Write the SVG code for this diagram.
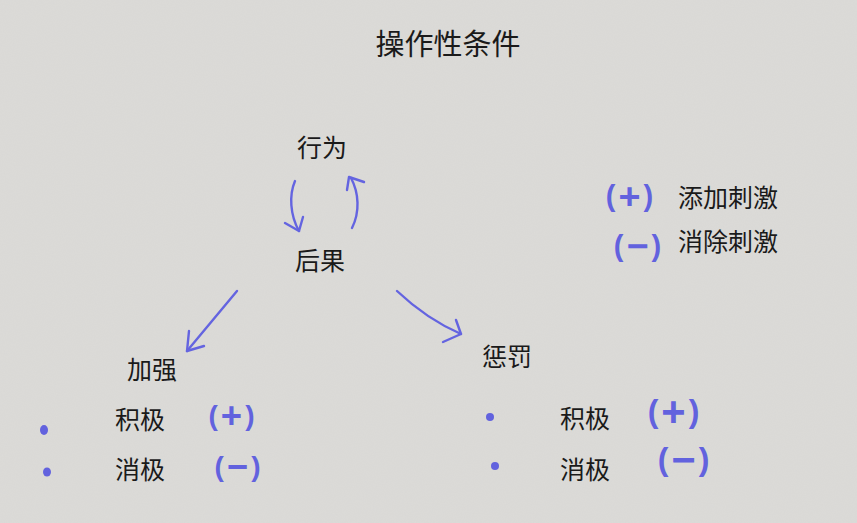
<svg xmlns="http://www.w3.org/2000/svg" width="857" height="523" viewBox="0 0 857 523">
  <defs>
    <filter id="paper" x="0" y="0" width="100%" height="100%">
      <feTurbulence type="fractalNoise" baseFrequency="0.9" numOctaves="2" seed="3" result="n"/>
      <feColorMatrix in="n" type="matrix" values="0 0 0 0 0.5  0 0 0 0 0.5  0 0 0 0 0.5  0 0 0 0.10 0"/>
    </filter>
    <style>
      .t { font-family: "Noto Sans CJK SC", "Noto Sans", sans-serif; fill: #1a1a1a; dominant-baseline: central; text-anchor: middle; }
      .tl { font-family: "Noto Sans CJK SC", "Noto Sans", sans-serif; fill: #1a1a1a; dominant-baseline: central; text-anchor: start; }
      .ink { fill: none; stroke: #6464e0; stroke-width: 2.4; stroke-linecap: round; stroke-linejoin: round; }
      .sym { font-family: "Liberation Sans", "DejaVu Sans", sans-serif; font-weight: bold; fill: #6262de; dominant-baseline: central; text-anchor: middle; letter-spacing: 3px; }
      .big { font-size: 1.3em; }
      .dot { fill: #6262de; }
    </style>
  </defs>
  <rect x="0" y="0" width="857" height="523" fill="#dcdbd8"/>
  <rect x="0" y="0" width="857" height="523" filter="url(#paper)"/>

  <g id="title"><text class="t" x="448" y="42" font-size="29">操作性条件</text></g>

  <g id="node-behavior"><text class="t" x="322" y="146" font-size="25">行为</text></g>
  <g id="node-consequence"><text class="t" x="320" y="259" font-size="25">后果</text></g>
  <g id="node-reinforce"><text class="t" x="152" y="368" font-size="25">加强</text></g>
  <g id="node-punish"><text class="t" x="507" y="355" font-size="25">惩罚</text></g>

  <g id="reinforce-list">
    <ellipse class="dot" cx="44" cy="430" rx="4" ry="5"/>
    <ellipse class="dot" cx="47" cy="472" rx="4" ry="4.5"/>
    <text class="t" x="140" y="418" font-size="25">积极</text>
    <text class="t" x="140" y="468" font-size="25">消极</text>
    <text class="sym" x="233" y="415" font-size="28">(<tspan class="big">+</tspan>)</text>
    <text class="sym" x="239" y="466" font-size="28">(<tspan class="big">−</tspan>)</text>
  </g>

  <g id="punish-list">
    <circle class="dot" cx="490" cy="417" r="4"/>
    <circle class="dot" cx="495" cy="466" r="4"/>
    <text class="t" x="585" y="417" font-size="25">积极</text>
    <text class="t" x="585" y="468" font-size="25">消极</text>
    <text class="sym" x="675" y="411" font-size="32">(<tspan class="big">+</tspan>)</text>
    <text class="sym" x="685" y="459" font-size="32">(<tspan class="big">−</tspan>)</text>
  </g>

  <g id="legend">
    <text class="sym" x="631" y="196" font-size="29">(<tspan class="big">+</tspan>)</text>
    <text class="tl" x="678" y="196" font-size="25">添加刺激</text>
    <text class="sym" x="639" y="246" font-size="29">(<tspan class="big">−</tspan>)</text>
    <text class="tl" x="678" y="240" font-size="25">消除刺激</text>
  </g>

  <g id="connectors">
    <path class="ink" d="M295,181 C289,195 290,215 299,231"/>
    <path class="ink" d="M285,223 L299,231 L303,217"/>
    <path class="ink" d="M352,228 C360,212 359,193 351,178"/>
    <path class="ink" d="M347,190 L349,177 L364,182"/>
    <path class="ink" d="M237,291 L187,351"/>
    <path class="ink" d="M189,331 L187,351 L204,346"/>
    <path class="ink" d="M397,291 C415,308 438,324 461,334"/>
    <path class="ink" d="M456,320 L461,334 L443,342"/>
  </g>
</svg>
